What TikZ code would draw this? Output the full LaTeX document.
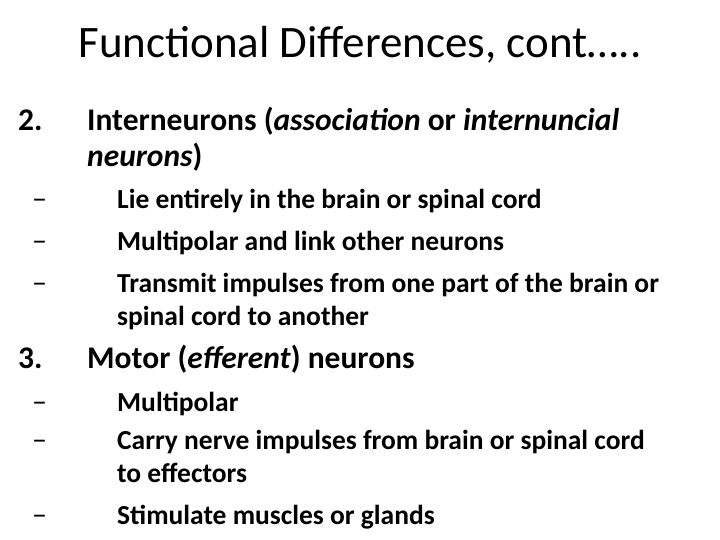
\documentclass[tikz,border=0pt]{standalone}
\usepackage{fontspec}
\setmainfont{Carlito}
\begin{document}
\begin{tikzpicture}[x=1pt,y=-1pt,
  t/.style={anchor=base west,inner sep=0pt,font=\bfseries\fontsize{31.5}{36}\selectfont},
  s/.style={anchor=base west,inner sep=0pt,font=\bfseries\fontsize{27.5}{32}\selectfont},
  dsh/.style={anchor=base west,inner sep=0pt,font=\fontsize{30}{32}\selectfont}]
\useasboundingbox[fill=white] (0,0) rectangle (720,540);
\node[anchor=base,inner sep=0pt,font=\fontsize{45}{50}\selectfont] (title) at (360,58) {Functional Differences, cont…..};
\node[t] (n2) at (18,131) {2.};
\node[t] (i2a) at (87,131) {Interneurons (\textit{association} or \textit{internuncial}};
\node[t] (i2b) at (87,167) {\textit{neurons})};
\node[dsh] (d1) at (32,208) {–};
\node[s] (b1) at (117,208) {Lie entirely in the brain or spinal cord};
\node[dsh] (d2) at (32,250) {–};
\node[s] (b2) at (117,250) {Multipolar and link other neurons};
\node[dsh] (d3) at (32,292) {–};
\node[s] (b3) at (117,292) {Transmit impulses from one part of the brain or};
\node[s] (b3b) at (117,325) {spinal cord to another};
\node[t] (n3) at (18,368) {3.};
\node[t] (i3) at (87,368) {Motor (\textit{efferent}) neurons};
\node[dsh] (d4) at (32,411) {–};
\node[s] (b4) at (117,411) {Multipolar};
\node[dsh] (d5) at (32,449) {–};
\node[s] (b5) at (117,449) {Carry nerve impulses from brain or spinal cord};
\node[s] (b5b) at (117,482) {to effectors};
\node[dsh] (d6) at (32,524) {–};
\node[s] (b6) at (117,524) {Stimulate muscles or glands};
\end{tikzpicture}
\end{document}
